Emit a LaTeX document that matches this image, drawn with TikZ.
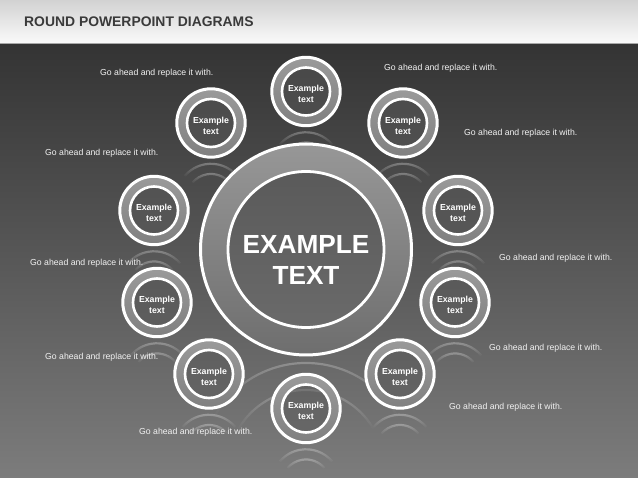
\documentclass[tikz,border=0pt]{standalone}
\usepackage{fontspec}
\setmainfont{Liberation Sans}
\usetikzlibrary{fadings}
\tikzfading[name=reflfade, top color=transparent!68, bottom color=transparent!100]
\definecolor{bgtop}{HTML}{343434}
\definecolor{bgmid}{HTML}{5E5E5E}
\definecolor{bgbot}{HTML}{7C7C7C}
\definecolor{hdtop}{HTML}{D2D2D2}
\definecolor{hdbot}{HTML}{FAFAFA}
\definecolor{hdline}{HTML}{A8A8A8}
\definecolor{titlecol}{HTML}{3A3A3A}
\definecolor{ringtop}{HTML}{9A9A9A}
\definecolor{ringbot}{HTML}{808080}
\definecolor{discgray}{HTML}{5A5A5A}
\definecolor{bigringtop}{HTML}{979797}
\definecolor{bigringbot}{HTML}{6E6E6E}
\definecolor{bigdisctop}{HTML}{5A5A5A}
\definecolor{bigdiscbot}{HTML}{6A6A6A}
\definecolor{lblcol}{HTML}{F2F2F2}
\tikzset{
  refl/.style={draw=white, line width=2.2pt, path fading=reflfade},
  smallout/.style={circle, minimum size=68.4pt, inner sep=0pt, draw=white, line width=3pt},
  smallin/.style={circle, minimum size=48pt, inner sep=0pt, draw=white, line width=2.6pt, fill=discgray, fill opacity=0.5},
  smalltxt/.style={font=\bfseries\fontsize{8.75}{11}\selectfont, text=white, align=center, inner sep=0pt},
  lbl/.style={font=\fontsize{8.7}{10}\selectfont, text=lblcol, anchor=west, inner sep=0pt},
}
\begin{document}
\begin{tikzpicture}[x=1pt,y=-1pt]
\useasboundingbox (0,0) rectangle (638,478);
% background
\shade[top color=bgtop, middle color=bgmid, bottom color=bgbot] (0,44) rectangle (638,478);
\shade[top color=hdtop, bottom color=hdbot] (0,0) rectangle (638,43);
\fill[hdline] (0,43) rectangle (638,44.5);
\node[font=\bfseries\fontsize{13.9}{16}\selectfont, text=titlecol, anchor=west, inner sep=0pt] (title) at (24,22) {ROUND POWERPOINT DIAGRAMS};
% reflections of small circles
\foreach \x/\y in {306/91.5, 211/123, 403/123, 154/210.5, 458/210.5, 157/302.5, 455/302.5, 209/374, 400/374, 306/408.5} {
  \begin{scope}[shift={(\x,\y+75)}]
    \draw[refl] (40:34.2pt) arc[start angle=40, end angle=140, radius=34.2pt];
    \draw[refl] (40:24pt) arc[start angle=40, end angle=140, radius=24pt];
  \end{scope}
}
% reflection of the big circle
\begin{scope}[shift={(306,468)}]
  \draw[refl] (30:105pt) arc[start angle=30, end angle=150, radius=105pt];
  \draw[refl] (30:78pt) arc[start angle=30, end angle=150, radius=78pt];
\end{scope}
% big circle
\node[circle, minimum size=211pt, inner sep=0pt, draw=white, line width=3pt, top color=bigringtop, bottom color=bigringbot] (bigo) at (306,249.5) {};
\node[circle, minimum size=156pt, inner sep=0pt, draw=white, line width=2.8pt, top color=bigdisctop, bottom color=bigdiscbot] (bigi) at (306,249.5) {};
\node[font=\bfseries\fontsize{26.2}{31}\selectfont, text=white, align=center, inner sep=0pt] (bigt) at (306,259.5) {EXAMPLE\\TEXT};
% small circles
\foreach \n/\x/\y in {c1/306/91.5, c2/211/123, c3/403/123, c4/154/210.5, c5/458/210.5, c6/157/302.5, c7/455/302.5, c8/209/374, c9/400/374, c10/306/408.5} {
  \shade[top color=ringtop, bottom color=ringbot, even odd rule] (\x,\y) circle[radius=34.2pt] circle[radius=24pt];
  \node[smallout] (\n o) at (\x,\y) {};
  \node[smallin] (\n) at (\x,\y) {};
  \node[smalltxt] (\n t) at (\x,\y+2.5) {Example\\text};
}
% labels
\node[lbl] (l1) at (100,73) {Go ahead and replace it with.};
\node[lbl] (l2) at (384,68) {Go ahead and replace it with.};
\node[lbl] (l3) at (464,133) {Go ahead and replace it with.};
\node[lbl] (l4) at (45,153) {Go ahead and replace it with.};
\node[lbl] (l5) at (499,258) {Go ahead and replace it with.};
\node[lbl] (l6) at (30,263) {Go ahead and replace it with.};
\node[lbl] (l7) at (489,348) {Go ahead and replace it with.};
\node[lbl] (l8) at (45,357) {Go ahead and replace it with.};
\node[lbl] (l9) at (449,407) {Go ahead and replace it with.};
\node[lbl] (l10) at (139,432) {Go ahead and replace it with.};
\end{tikzpicture}
\end{document}
